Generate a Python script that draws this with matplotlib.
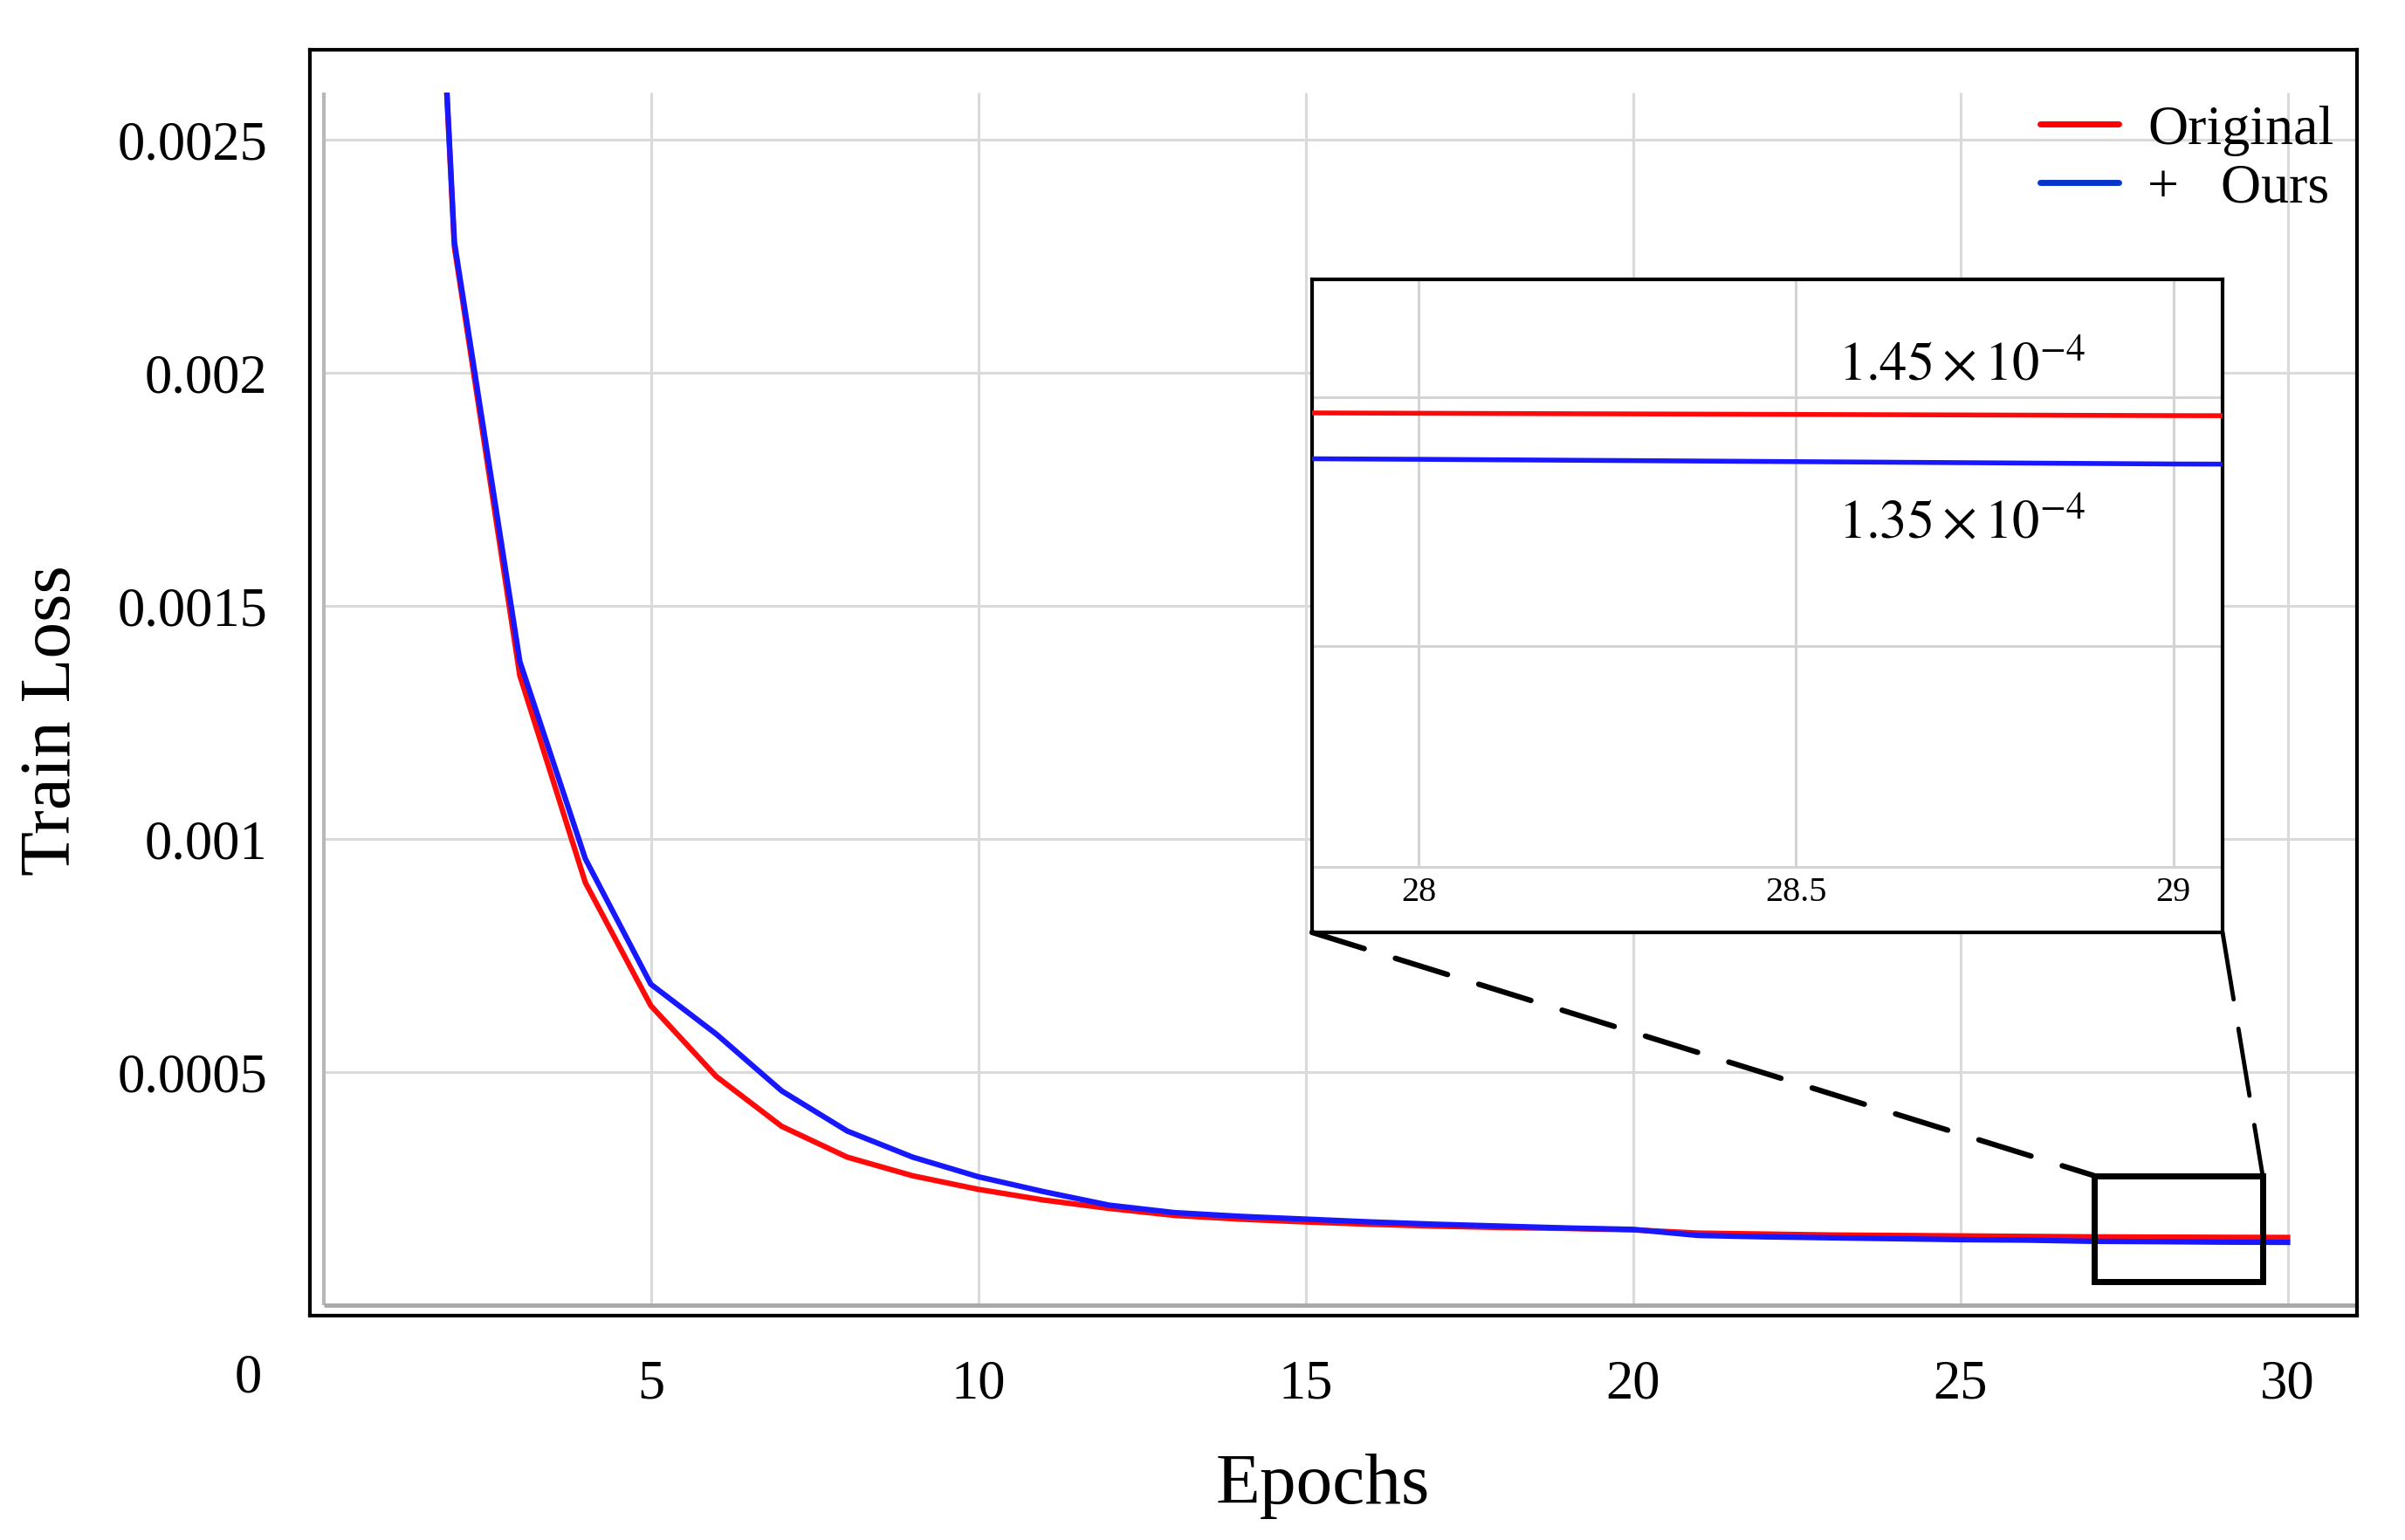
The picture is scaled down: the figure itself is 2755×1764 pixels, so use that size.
import numpy as np
import matplotlib.pyplot as plt
from matplotlib.patches import Rectangle, ConnectionPatch
from matplotlib.lines import Line2D
from matplotlib.transforms import blended_transform_factory

plt.rcParams['font.family'] = ['Liberation Serif', 'DejaVu Serif']
plt.rcParams['mathtext.fontset'] = 'stix'

# data
epochs = np.arange(1, 31)
loss_original = [0.0051, 0.00227, 0.00135, 0.000906, 0.000642, 0.00049, 0.000383, 0.000317,
                 0.000277, 0.000248, 0.000225, 0.000207, 0.000192, 0.000184, 0.000178,
                 0.000173, 0.000169, 0.000166, 0.000164, 0.000161, 0.000154, 0.000152,
                 0.00015, 0.000149, 0.000148, 0.000147, 0.000146, 0.0001455, 0.000145, 0.0001447]
loss_ours = [0.0051, 0.00228, 0.00138, 0.000957, 0.000688, 0.000581, 0.000459, 0.000373,
             0.000317, 0.000275, 0.000243, 0.000214, 0.000198, 0.00019, 0.000184,
             0.000178, 0.000173, 0.000169, 0.000165, 0.000162, 0.000149, 0.000146,
             0.000144, 0.000142, 0.00014, 0.000139, 0.0001365, 0.0001357, 0.0001347, 0.0001342]

x_ticks = [5, 10, 15, 20, 25, 30]
x_tick_labels = ['5', '10', '15', '20', '25', '30']
y_ticks = [0.0005, 0.001, 0.0015, 0.002, 0.0025]
y_tick_labels = ['0.0005', '0.001', '0.0015', '0.002', '0.0025']
inset_x_ticks = [28, 28.5, 29]
inset_x_tick_labels = ['28', '28.5', '29']
inset_y_grid = [0.49e-4, 0.96e-4, 1.49e-4]
final_labels = [r'$1.45\times10^{-4}$', r'$1.35\times10^{-4}$']
legend_labels = ['Original', '+   Ours']

W, H = 2755, 1765
fig = plt.figure(figsize=(W / 100, H / 100), dpi=100)


def fig_rect(l, t, r, b):
    return [l / W, 1 - b / H, (r - l) / W, (b - t) / H]


RED = '#ff0a0a'
BLUE = '#1818ff'
y_top = 0.0026
x_right = 31.06

ax = fig.add_axes(fig_rect(355, 58, 2700, 1508))
ax.set_xlim(-0.2067, x_right)
ax.set_ylim(-0.000023, 0.0026923)
for s in ax.spines.values():
    s.set_linewidth(3)
    s.set_color('black')

# grid + gray axis lines
ax.vlines(x_ticks, 0, y_top, color='#dadada', lw=2.2, zorder=1)
ax.hlines(y_ticks, 0, x_right, color='#dadada', lw=2.2, zorder=1)
ax.vlines(0, 0, y_top, color='#b8b8b8', lw=3, zorder=1.5)
ax.hlines(0, 0, x_right, color='#a8a8a8', lw=3.5, zorder=1.5)

clip = Rectangle((0, 0), x_right, y_top, transform=ax.transData)
l1, = ax.plot(epochs, loss_original, color=RED, lw=4.5, zorder=3)
l2, = ax.plot(epochs, loss_ours, color=BLUE, lw=4.5, zorder=3)
l1.set_clip_path(clip)
l2.set_clip_path(clip)

ax.set_xticks(x_ticks)
ax.set_xticklabels(x_tick_labels)
ax.set_yticks(y_ticks)
ax.set_yticklabels(y_tick_labels)
ax.tick_params(axis='x', length=0, labelsize=45, pad=36)
ax.tick_params(axis='y', length=0, labelsize=45, pad=35)
fig.text(284 / W, 1 - 1580 / H, '0', fontsize=45, ha='center', va='center')

fig.text(1515 / W, 1 - 1702 / H, 'Epochs', fontsize=60, ha='center', va='center')
fig.text(60 / W, 1 - 825 / H, 'Train Loss', fontsize=60, ha='center', va='center', rotation=90)

# legend
for yy, c, lab in [(143, '#ff0000', legend_labels[0]), (210, '#0a35cc', legend_labels[1])]:
    fig.add_artist(Line2D([2337 / W, 2427 / W], [1 - yy / H] * 2, color=c, lw=5,
                          solid_capstyle='round', transform=fig.transFigure))
    fig.text(2460 / W, 1 - (yy + 22) / H, lab, fontsize=46, ha='left', va='baseline')

# zoom box
zb = (27.05, 29.62, 0.00005, 0.000277)
ax.add_patch(Rectangle((zb[0], zb[2]), zb[1] - zb[0], zb[3] - zb[2], fill=False,
                       ec='black', lw=5, zorder=5))

# inset
axin = fig.add_axes(fig_rect(1503, 321, 2546, 1069))
axin.set_xlim(27.859, 29.065)
axin.set_ylim(0.350e-4, 1.740e-4)
for s in axin.spines.values():
    s.set_linewidth(3)
    s.set_color('black')
axin.hlines(inset_y_grid, 27.859, 29.065, color='#d4d4d4', lw=2.2, zorder=1)
axin.vlines(inset_x_ticks, inset_y_grid[0], 1.740e-4, color='#d4d4d4', lw=2.2, zorder=1)
axin.plot(epochs, loss_original, color=RED, lw=4, zorder=3)
axin.plot(epochs, loss_ours, color=BLUE, lw=4, zorder=3)
axin.set_xticks([])
axin.set_yticks([])
tr = blended_transform_factory(axin.transData, axin.transAxes)
for xv, lab in zip(inset_x_ticks, inset_x_tick_labels):
    axin.text(xv, 0.0615, lab, transform=tr, fontsize=29, ha='center', va='center')
axin.text(28.72, 1.556e-4, final_labels[0], fontsize=45, ha='center', va='center')
axin.text(28.72, 1.218e-4, final_labels[1], fontsize=45, ha='center', va='center')

con1 = ConnectionPatch(xyA=(0, 0), coordsA=axin.transAxes, xyB=(zb[0], zb[3]),
                       coordsB=ax.transData, color='black', lw=4.5, linestyle=(0, (10, 6)))
con2 = ConnectionPatch(xyA=(1, 0), coordsA=axin.transAxes, xyB=(zb[1], zb[3]),
                       coordsB=ax.transData, color='black', lw=3.5, linestyle=(0, (16, 7)))
fig.add_artist(con1)
fig.add_artist(con2)

fig.savefig('out.png', dpi=100)
